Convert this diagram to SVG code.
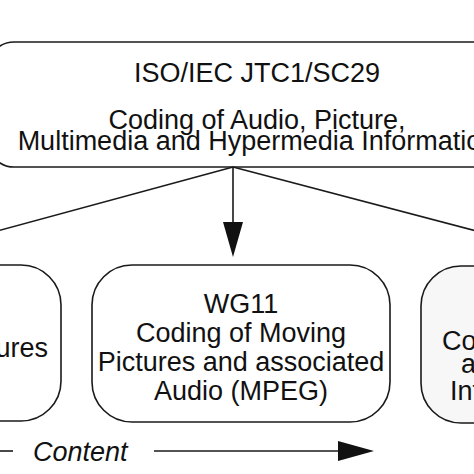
<svg xmlns="http://www.w3.org/2000/svg" width="474" height="474" viewBox="0 0 474 474">
<style>
.box{fill:#fff;stroke:#1a1a1a;stroke-width:1.6}
.t{font-family:"Liberation Sans",Arial,sans-serif;font-size:27px;fill:#111}
.c{text-anchor:middle}
.ln{stroke:#1a1a1a;stroke-width:1.6;fill:none}
.ah{fill:#111;stroke:none}
</style>
<rect width="474" height="474" fill="#fff"/>
<g id="sc29">
<rect class="box" x="-12" y="42" width="520" height="125" rx="26" ry="26"/>
<text class="t c" x="257" y="82">ISO/IEC JTC1/SC29</text>
<text class="t c" x="257" y="129">Coding of Audio, Picture,</text>
<text class="t c" x="257" y="150">Multimedia and Hypermedia Information</text>
</g>
<g id="connectors">
<line class="ln" x1="233" y1="167" x2="-10" y2="233"/>
<line class="ln" x1="233" y1="167" x2="484" y2="233"/>
<line class="ln" x1="233" y1="167" x2="233" y2="224"/>
<polygon class="ah" points="223,222 243,222 233,257"/>
</g>
<g id="wg1">
<rect class="box" x="-240" y="265" width="301" height="156" rx="40" ry="40"/>
<text class="t" x="48" y="357" text-anchor="end">ures</text>
</g>
<g id="wg11">
<rect class="box" x="92" y="265" width="298" height="157" rx="40" ry="40"/>
<text class="t c" x="241" y="313">WG11</text>
<text class="t c" x="241" y="342">Coding of Moving</text>
<text class="t c" x="241" y="371">Pictures and associated</text>
<text class="t c" x="241" y="400">Audio (MPEG)</text>
</g>
<g id="wg12">
<rect class="box" x="421" y="266" width="300" height="157" rx="40" ry="40" style="fill:#f7f7f7"/>
<text class="t" x="442" y="350">Co</text>
<text class="t" x="461" y="373">a</text>
<text class="t" x="450" y="400">Int</text>
</g>
<g id="content-axis">
<line class="ln" x1="-5" y1="451" x2="13" y2="451"/>
<text class="t" x="33" y="461" font-style="italic">Content</text>
<line class="ln" x1="154" y1="451" x2="340" y2="451"/>
<polygon class="ah" points="338,441 374,451 338,461"/>
</g>
</svg>
